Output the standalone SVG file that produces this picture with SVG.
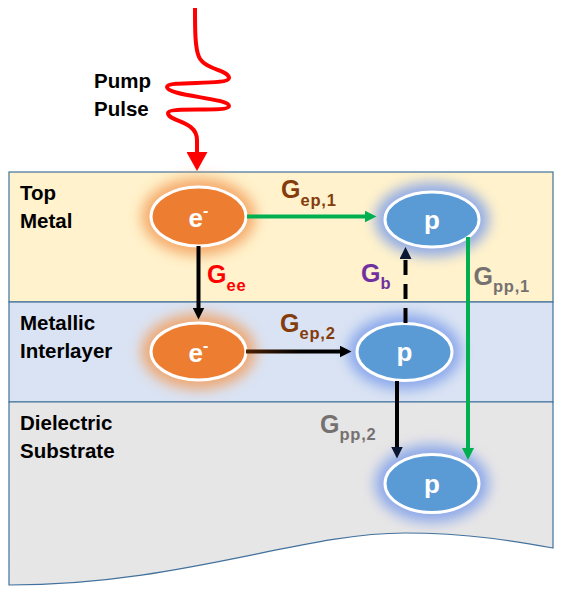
<svg xmlns="http://www.w3.org/2000/svg" width="563" height="596" viewBox="0 0 563 596">
<style>
  .layer{stroke:#41719C;stroke-width:1.2}
  .lbl{font-family:"Liberation Sans",Arial,sans-serif;font-weight:bold;font-size:20.5px;fill:#000}
  .g{font-family:"Liberation Sans",Arial,sans-serif;font-weight:bold;font-size:25px}
  .sub{font-size:16.5px;letter-spacing:0.8px}
  .node{stroke:#fff;stroke-width:3}
  .e{fill:#ED7D31}
  .p{fill:#5B9BD5}
  .glowE{fill:#F39A55;opacity:0.8}
  .glowP{fill:#7E9FEA;opacity:0.85}
  .nt{font-family:"Liberation Sans",Arial,sans-serif;font-weight:bold;font-size:26px;fill:#fff;text-anchor:middle}
  .c{fill:none;stroke-width:4}
</style>
<defs>
  <filter id="glow" x="-50%" y="-50%" width="200%" height="200%">
    <feGaussianBlur stdDeviation="6.5"/>
  </filter>
  <marker id="ahK" markerUnits="userSpaceOnUse" markerWidth="12" markerHeight="12" refX="1" refY="6" orient="auto">
    <path d="M0,0 L12,6 L0,12 z" fill="#000"/>
  </marker>
  <marker id="ahN" markerUnits="userSpaceOnUse" markerWidth="12" markerHeight="12" refX="1" refY="6" orient="auto">
    <path d="M0,0 L12,6 L0,12 z" fill="#0B1632"/>
  </marker>
  <marker id="ahG" markerUnits="userSpaceOnUse" markerWidth="12" markerHeight="12" refX="1" refY="6" orient="auto">
    <path d="M0,0 L12,6 L0,12 z" fill="#00B050"/>
  </marker>
  <marker id="ahR" markerUnits="userSpaceOnUse" markerWidth="20" markerHeight="21" refX="1" refY="10.5" orient="auto">
    <path d="M0,0 L19,10.5 L0,21 z" fill="#FF0000"/>
  </marker>
  <linearGradient id="gEp2" gradientUnits="userSpaceOnUse" x1="247" y1="0" x2="300" y2="0">
    <stop offset="0" stop-color="#4A2000"/>
    <stop offset="1" stop-color="#000"/>
  </linearGradient>
</defs>

<g id="layers">
  <rect id="top-metal" class="layer" x="9" y="172" width="544" height="130" fill="#FFF2CC"/>
  <rect id="interlayer" class="layer" x="9" y="302" width="544" height="100" fill="#DAE3F3"/>
  <path id="substrate" class="layer" fill="#E7E6E6" d="M9,402 H553 V548 C520,542 470,533 405,533 C300,533 180,585 9,585 Z"/>
  <text class="lbl" x="20" y="200">Top</text>
  <text class="lbl" x="20" y="228">Metal</text>
  <text class="lbl" x="20" y="330">Metallic</text>
  <text class="lbl" x="20" y="358">Interlayer</text>
  <text class="lbl" x="20" y="430">Dielectric</text>
  <text class="lbl" x="20" y="458">Substrate</text>
</g>

<g id="nodes">
  <g id="e-top">
    <ellipse class="glowE" cx="198.5" cy="216.5" rx="57" ry="39" filter="url(#glow)"/>
    <ellipse class="node e" cx="198.5" cy="216.5" rx="47.5" ry="29.5"/>
    <text class="nt" x="198.5" y="227">e<tspan font-size="16" dy="-11">-</tspan></text>
  </g>
  <g id="e-mid">
    <ellipse class="glowE" cx="198.5" cy="351.5" rx="57" ry="38" filter="url(#glow)"/>
    <ellipse class="node e" cx="198.5" cy="351.5" rx="47.5" ry="28.5"/>
    <text class="nt" x="198.5" y="361.5">e<tspan font-size="16" dy="-11">-</tspan></text>
  </g>
  <g id="p-top">
    <ellipse class="glowP" cx="432" cy="219.5" rx="57" ry="37" filter="url(#glow)"/>
    <ellipse class="node p" cx="432" cy="219.5" rx="47" ry="27.5"/>
    <text class="nt" x="432" y="228.5">p</text>
  </g>
  <g id="p-mid">
    <ellipse class="glowP" cx="404.5" cy="352" rx="57" ry="38" filter="url(#glow)"/>
    <ellipse class="node p" cx="404.5" cy="352" rx="47.5" ry="28.5"/>
    <text class="nt" x="404.5" y="361">p</text>
  </g>
  <g id="p-sub">
    <ellipse class="glowP" cx="432" cy="483.5" rx="57" ry="39" filter="url(#glow)"/>
    <ellipse class="node p" cx="432" cy="483.5" rx="47" ry="29"/>
    <text class="nt" x="432" y="493">p</text>
  </g>
</g>

<g id="connectors">
  <path id="pump" class="c" stroke="#FF0000" marker-end="url(#ahR)" d="M195,8 C195,30 195,48 199,57 C205,70 229,70 229,78 C229,86 167,80 167,87 C167,96 229,98 229,106 C229,113 168,106 168,113 C168,122 197,120 197,140 L197,153"/>
  <line id="gep1" class="c" stroke="#00B050" marker-end="url(#ahG)" x1="247" y1="216.5" x2="365.5" y2="216.5"/>
  <line id="gee" class="c" stroke="#000" marker-end="url(#ahK)" x1="198.5" y1="246" x2="198.5" y2="308.5"/>
  <line id="gep2" class="c" stroke="url(#gEp2)" marker-end="url(#ahK)" x1="246" y1="351.5" x2="340.5" y2="351.5"/>
  <line id="gb" class="c" stroke="#000" stroke-dasharray="15 9" marker-end="url(#ahN)" x1="405.5" y1="323" x2="405.5" y2="258"/>
  <line id="gpp1" class="c" stroke="#00B050" marker-end="url(#ahG)" x1="468" y1="237" x2="468" y2="449"/>
  <line id="gpp2" class="c" stroke="#000" marker-end="url(#ahN)" x1="397" y1="381" x2="397" y2="447.5"/>
</g>

<g id="labels">
  <text class="lbl" x="94" y="88">Pump</text>
  <text class="lbl" x="94" y="116">Pulse</text>
  <text class="g" x="281" y="198" fill="#843C0C">G<tspan class="sub" dy="7.5">ep,1</tspan></text>
  <text class="g" x="207" y="283" fill="#FF0000">G<tspan class="sub" dy="7.5">ee</tspan></text>
  <text class="g" x="280" y="331.5" fill="#843C0C">G<tspan class="sub" dy="7.5">ep,2</tspan></text>
  <text class="g" x="361" y="281.5" fill="#7030A0">G<tspan class="sub" dy="7">b</tspan></text>
  <text class="g" x="473.5" y="285" fill="#767171">G<tspan class="sub" dy="7">pp,1</tspan></text>
  <text class="g" x="320" y="432.5" fill="#767171">G<tspan class="sub" dy="7.5">pp,2</tspan></text>
</g>
</svg>
